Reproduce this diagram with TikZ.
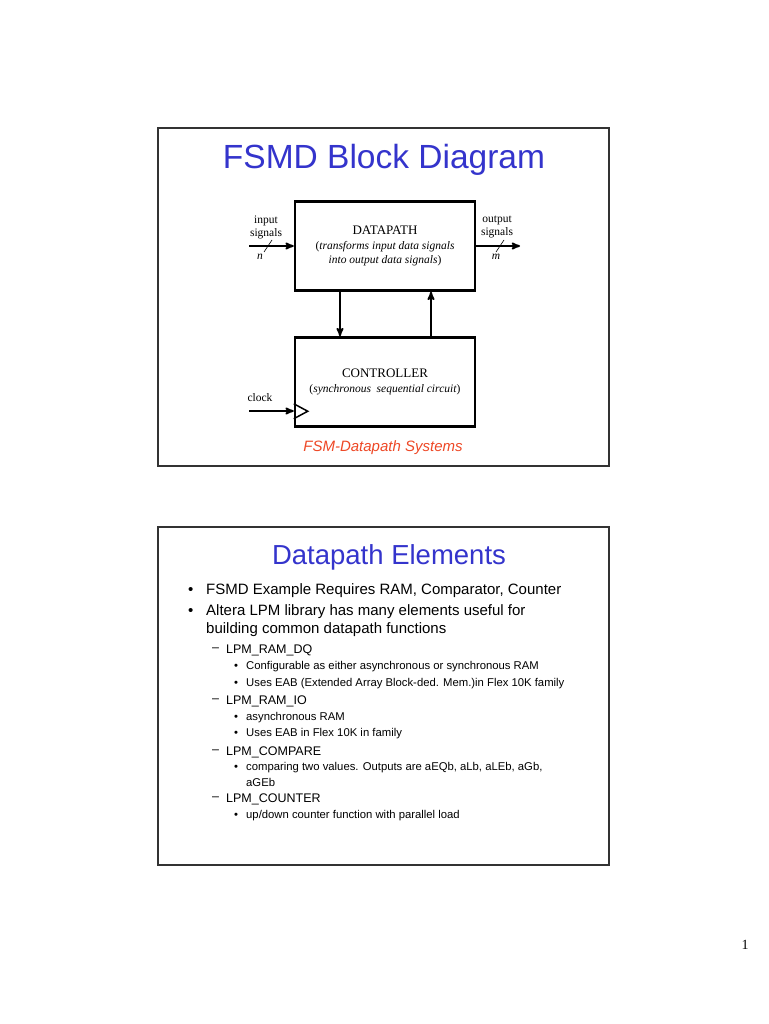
\documentclass[tikz,border=0pt]{standalone}
\usepackage{fontspec}
\setmainfont{Liberation Serif}
\newfontfamily\slidefont{Liberation Sans}
\usetikzlibrary{arrows,positioning}

\definecolor{titleblue}{RGB}{52,52,204}
\definecolor{capred}{RGB}{238,72,38}

\begin{document}
\begin{tikzpicture}[x=1pt,y=-1pt,>=stealth',
    frame/.style={draw=black!80,line width=1.3pt},
    title/.style={text=titleblue,font=\slidefont\fontsize{33.5}{38}\selectfont},
    block/.style={draw,line width=2.5pt,minimum width=180,minimum height=89,align=center,
        font=\fontsize{11.5}{14.5}\selectfont},
    lbl/.style={align=center,inner sep=0pt,font=\fontsize{11.5}{13}\selectfont},
    wire/.style={->,line width=1.8pt},
    lvlone/.style={anchor=west,inner sep=0pt,font=\slidefont\fontsize{15}{18}\selectfont},
    lvltwo/.style={anchor=west,inner sep=0pt,font=\slidefont\fontsize{12.5}{15}\selectfont},
    lvlthree/.style={anchor=west,inner sep=0pt,font=\slidefont\fontsize{11.3}{14}\selectfont}]
    \useasboundingbox[fill=white] (0,0) rectangle (768,1024);

    % first slide
    \draw[frame] (158,128) rectangle (609,466);
    \node[title] (t1) at (384,160) {FSMD Block Diagram};

    \node[block] (dp) at (385,246)
        {{\fontsize{13}{14}\selectfont DATAPATH}\\(\textit{transforms input data signals}\\\textit{into output data signals})};
    \node[block] (ctrl) at (385,382)
        {{\fontsize{13}{14}\selectfont CONTROLLER}\\(\textit{synchronous\ \ sequential circuit})};

    \coordinate (inL) at (249,246);
    \coordinate (outR) at (520,246);
    \coordinate (clkL) at (249,411);
    \coordinate (nslash) at (268,246);
    \coordinate (mslash) at (500,246);

    \draw[wire] (inL) -- (dp.west);
    \draw[wire] (dp.east) -- (outR);
    \draw[wire] (clkL) -- (clkL -| ctrl.west);
    \draw[wire] ([xshift=-45]dp.south) -- ([xshift=-45]ctrl.north);
    \draw[wire] ([xshift=46]ctrl.north) -- ([xshift=46]dp.south);
    \draw[line width=0.6pt] ([shift={(-4,6)}]nslash) -- ([shift={(4,-6)}]nslash);
    \draw[line width=0.6pt] ([shift={(-4,6)}]mslash) -- ([shift={(4,-6)}]mslash);
    \draw[line width=1.5pt] ([shift={(0,-24)}]ctrl.south west) -- ++(14,7.5) -- ++(-14,7.5);

    \node[lbl] (insig) at (266,227) {input\\signals};
    \node[lbl] (outsig) at (497,227) {output\\signals};
    \node[lbl] (nlbl) at (260,257) {\textit{n}};
    \node[lbl] (mlbl) at (496,257) {\textit{m}};
    \node[lbl] (clk) at (260,398) {clock};

    \node[text=capred,font=\slidefont\itshape\fontsize{15}{18}\selectfont] (cap) at (383,448) {FSM-Datapath Systems};

    % second slide
    \draw[frame] (158,527) rectangle (609,865);
    \node[title,font=\slidefont\fontsize{27.5}{32}\selectfont] (t2) at (389,557) {Datapath Elements};

    \node[lvlone] (b1) at (188,591) {\textbullet};
    \node[lvlone] (i1) at (206,591) {FSMD Example Requires RAM, Comparator, Counter};
    \node[lvlone] (b2) at (188,612) {\textbullet};
    \node[lvlone] (i2) at (206,612) {Altera LPM library has many elements useful for};
    \node[lvlone] (i2b) at (206,630) {building common datapath functions};

    \node[lvltwo] (d1) at (212,650) {\textendash};
    \node[lvltwo] (s1) at (226,650) {LPM\_RAM\_DQ};
    \node[lvlthree] (e1) at (234,667) {\textbullet};
    \node[lvlthree] (f1) at (246,667) {Configurable as either asynchronous or synchronous RAM};
    \node[lvlthree] (e2) at (234,684) {\textbullet};
    \node[lvlthree] (f2) at (246,684) {Uses EAB (Extended Array Block-ded. Mem.)in Flex 10K family};

    \node[lvltwo] (d2) at (212,701) {\textendash};
    \node[lvltwo] (s2) at (226,701) {LPM\_RAM\_IO};
    \node[lvlthree] (e3) at (234,718) {\textbullet};
    \node[lvlthree] (f3) at (246,718) {asynchronous RAM};
    \node[lvlthree] (e4) at (234,734) {\textbullet};
    \node[lvlthree] (f4) at (246,734) {Uses EAB in Flex 10K in family};

    \node[lvltwo] (d3) at (212,752) {\textendash};
    \node[lvltwo] (s3) at (226,752) {LPM\_COMPARE};
    \node[lvlthree] (e5) at (234,768) {\textbullet};
    \node[lvlthree] (f5) at (246,768) {comparing two values. Outputs are aEQb, aLb, aLEb, aGb,};
    \node[lvlthree] (f5b) at (246,782) {aGEb};

    \node[lvltwo] (d4) at (212,799) {\textendash};
    \node[lvltwo] (s4) at (226,799) {LPM\_COUNTER};
    \node[lvlthree] (e6) at (234,816) {\textbullet};
    \node[lvlthree] (f6) at (246,816) {up/down counter function with parallel load};

    \node[font=\fontsize{14}{16}\selectfont] (pg) at (745,945) {1};
\end{tikzpicture}
\end{document}
